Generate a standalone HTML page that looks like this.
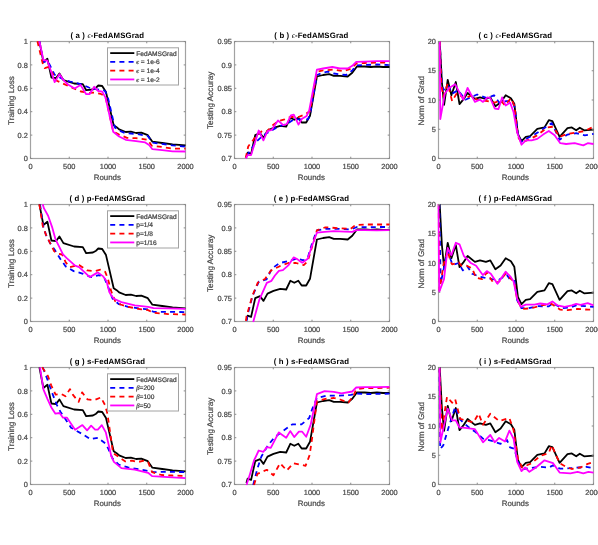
<!DOCTYPE html><html><head><meta charset="utf-8"><style>html,body{margin:0;padding:0;background:#fff;}svg{display:block;will-change:transform;}text.t{stroke:#4a4a4a;stroke-width:0.22px;}</style></head><body>
<svg width="598" height="545" viewBox="0 0 598 545" font-family='"Liberation Sans", sans-serif' text-rendering="geometricPrecision">
<rect width="598" height="545" fill="#fff"/>
<defs><clipPath id="cpa"><rect x="29.5" y="40.5" width="157.0" height="119.0"/></clipPath></defs>
<rect x="30.5" y="41.5" width="155.0" height="117.0" fill="none" stroke="#a2a2a2" stroke-width="1.2"/>
<path clip-path="url(#cpa)" d="M39.4,41.3 L43.4,62 L47.4,58.7 L51.4,77.5 L56.1,78.1 L59.4,73.4 L63.4,80.1 L74.1,83.5 L82.8,84.1 L86.2,90.2 L92.9,89.5 L96.1,87.7 L98.3,85.5 L102.2,86 L106,92.1 L113.7,125.2 L117,127.4 L119.1,129.3 L125.7,132 L130.9,131.7 L136.1,133 L141.3,132.6 L147.8,135.2 L152.4,141.7 L162.2,143 L172.6,144.3 L185.5,145.3" fill="none" stroke="#000000" stroke-width="1.8" stroke-linejoin="round"/>
<path clip-path="url(#cpa)" d="M39.4,41.3 L43.4,62 L48,61.4 L54.7,74.8 L63.4,79.5 L70.1,81.5 L80.8,84.1 L88.9,87.5 L96.9,89.5 L102.5,90 L105,91 L107.6,96.2 L114.8,127.4 L119.1,130.5 L125.7,133.3 L136.1,133.9 L147.8,135.9 L152.4,142.6 L172.6,145.3 L185.5,146.6" fill="none" stroke="#0000ff" stroke-width="1.8" stroke-linejoin="round" stroke-dasharray="5 4.2"/>
<path clip-path="url(#cpa)" d="M37.4,41.3 L42.7,63.4 L44.7,68.1 L48.7,66.8 L56.8,80.8 L70.1,86.8 L80.8,91.5 L88.9,92.8 L95,92.7 L100.5,93.8 L104.9,96.2 L106,99 L113.2,131.5 L119.1,134.6 L127,137.8 L136.1,138.2 L147.8,139.8 L151.7,145.7 L162.2,147 L172.6,148.7 L185.5,148.7" fill="none" stroke="#ff0000" stroke-width="1.8" stroke-linejoin="round" stroke-dasharray="5 4.2"/>
<path clip-path="url(#cpa)" d="M39.4,41.3 L43.4,60 L47.4,60.7 L54.7,82.1 L59.4,74.1 L63.4,80.1 L68,84.5 L74.6,88.4 L80.5,84.9 L86.2,94.2 L89.5,94.2 L94.2,86.8 L98.3,91 L102.2,91.6 L105.5,97.6 L113.2,131.8 L119.1,136.5 L125.7,139.8 L136.1,141.1 L145.2,142.4 L149.1,145 L152.4,149.2 L162.2,150.2 L172.6,151.3 L185.5,151.5" fill="none" stroke="#ff00ff" stroke-width="1.8" stroke-linejoin="round"/>
<line x1="30.5" y1="158.5" x2="30.5" y2="156.7" stroke="#8a8a8a" stroke-width="1"/>
<line x1="30.5" y1="41.5" x2="30.5" y2="43.3" stroke="#8a8a8a" stroke-width="1"/>
<text x="30.5" y="168.7" font-size="7.4" class="t" fill="#4a4a4a" text-anchor="middle">0</text>
<line x1="69.25" y1="158.5" x2="69.25" y2="156.7" stroke="#8a8a8a" stroke-width="1"/>
<line x1="69.25" y1="41.5" x2="69.25" y2="43.3" stroke="#8a8a8a" stroke-width="1"/>
<text x="69.25" y="168.7" font-size="7.4" class="t" fill="#4a4a4a" text-anchor="middle">500</text>
<line x1="108" y1="158.5" x2="108" y2="156.7" stroke="#8a8a8a" stroke-width="1"/>
<line x1="108" y1="41.5" x2="108" y2="43.3" stroke="#8a8a8a" stroke-width="1"/>
<text x="108" y="168.7" font-size="7.4" class="t" fill="#4a4a4a" text-anchor="middle">1000</text>
<line x1="146.75" y1="158.5" x2="146.75" y2="156.7" stroke="#8a8a8a" stroke-width="1"/>
<line x1="146.75" y1="41.5" x2="146.75" y2="43.3" stroke="#8a8a8a" stroke-width="1"/>
<text x="146.75" y="168.7" font-size="7.4" class="t" fill="#4a4a4a" text-anchor="middle">1500</text>
<line x1="185.5" y1="158.5" x2="185.5" y2="156.7" stroke="#8a8a8a" stroke-width="1"/>
<line x1="185.5" y1="41.5" x2="185.5" y2="43.3" stroke="#8a8a8a" stroke-width="1"/>
<text x="185.5" y="168.7" font-size="7.4" class="t" fill="#4a4a4a" text-anchor="middle">2000</text>
<line x1="30.5" y1="158.5" x2="32.3" y2="158.5" stroke="#8a8a8a" stroke-width="1"/>
<line x1="185.5" y1="158.5" x2="183.7" y2="158.5" stroke="#8a8a8a" stroke-width="1"/>
<text x="27.9" y="161.2" font-size="7.4" class="t" fill="#4a4a4a" text-anchor="end">0</text>
<line x1="30.5" y1="135.1" x2="32.3" y2="135.1" stroke="#8a8a8a" stroke-width="1"/>
<line x1="185.5" y1="135.1" x2="183.7" y2="135.1" stroke="#8a8a8a" stroke-width="1"/>
<text x="27.9" y="137.8" font-size="7.4" class="t" fill="#4a4a4a" text-anchor="end">0.2</text>
<line x1="30.5" y1="111.7" x2="32.3" y2="111.7" stroke="#8a8a8a" stroke-width="1"/>
<line x1="185.5" y1="111.7" x2="183.7" y2="111.7" stroke="#8a8a8a" stroke-width="1"/>
<text x="27.9" y="114.4" font-size="7.4" class="t" fill="#4a4a4a" text-anchor="end">0.4</text>
<line x1="30.5" y1="88.3" x2="32.3" y2="88.3" stroke="#8a8a8a" stroke-width="1"/>
<line x1="185.5" y1="88.3" x2="183.7" y2="88.3" stroke="#8a8a8a" stroke-width="1"/>
<text x="27.9" y="91" font-size="7.4" class="t" fill="#4a4a4a" text-anchor="end">0.6</text>
<line x1="30.5" y1="64.9" x2="32.3" y2="64.9" stroke="#8a8a8a" stroke-width="1"/>
<line x1="185.5" y1="64.9" x2="183.7" y2="64.9" stroke="#8a8a8a" stroke-width="1"/>
<text x="27.9" y="67.6" font-size="7.4" class="t" fill="#4a4a4a" text-anchor="end">0.8</text>
<line x1="30.5" y1="41.5" x2="32.3" y2="41.5" stroke="#8a8a8a" stroke-width="1"/>
<line x1="185.5" y1="41.5" x2="183.7" y2="41.5" stroke="#8a8a8a" stroke-width="1"/>
<text x="27.9" y="44.2" font-size="7.4" class="t" fill="#4a4a4a" text-anchor="end">1</text>
<text x="107.3" y="180.1" font-size="7.9" class="t" fill="#4a4a4a" text-anchor="middle">Rounds</text>
<text transform="translate(13.5,100.5) rotate(-90)" font-size="8.2" class="t" fill="#4a4a4a" text-anchor="middle">Training Loss</text>
<text x="107.4" y="37.9" font-size="7.8" font-weight="bold" letter-spacing="0.14" fill="#000" text-anchor="middle">( a ) <tspan font-family="Liberation Serif" font-style="italic" font-weight="normal">ϵ</tspan>-FedAMSGrad</text>
<rect x="107.5" y="47.8" width="71" height="37.2" fill="#fff" stroke="#a2a2a2" stroke-width="1"/>
<line x1="110.2" y1="53.1" x2="134.3" y2="53.1" stroke="#000000" stroke-width="1.8"/>
<text x="136.3" y="55.6" font-size="6.6" class="t" fill="#333">FedAMSGrad</text>
<line x1="110.2" y1="61.88" x2="134.3" y2="61.88" stroke="#0000ff" stroke-width="1.8" stroke-dasharray="5 4.2"/>
<text x="136.3" y="64.38" font-size="6.6" class="t" fill="#333"><tspan font-family="Liberation Serif" font-style="italic" font-weight="normal">ϵ</tspan> = 1e-6</text>
<line x1="110.2" y1="70.66" x2="134.3" y2="70.66" stroke="#ff0000" stroke-width="1.8" stroke-dasharray="5 4.2"/>
<text x="136.3" y="73.16" font-size="6.6" class="t" fill="#333"><tspan font-family="Liberation Serif" font-style="italic" font-weight="normal">ϵ</tspan> = 1e-4</text>
<line x1="110.2" y1="79.44" x2="134.3" y2="79.44" stroke="#ff00ff" stroke-width="1.8"/>
<text x="136.3" y="81.94" font-size="6.6" class="t" fill="#333"><tspan font-family="Liberation Serif" font-style="italic" font-weight="normal">ϵ</tspan> = 1e-2</text>
<defs><clipPath id="cpb"><rect x="233.5" y="40.5" width="157.0" height="119.0"/></clipPath></defs>
<rect x="234.5" y="41.5" width="155.0" height="117.0" fill="none" stroke="#a2a2a2" stroke-width="1.2"/>
<path clip-path="url(#cpb)" d="M246.4,157 L247.6,152.7 L251.1,153.9 L255.2,135.2 L260.1,133.2 L263.5,137.9 L267.5,130.6 L273.5,127.9 L280.2,125.9 L286.2,126.5 L290.3,117.8 L294.3,119.8 L298.3,117.8 L301.7,122.5 L306.2,122.5 L310,115.8 L316.9,76.5 L323.1,75 L329.2,74.2 L333.8,75.8 L340,75.8 L347.7,76.5 L352.3,72.7 L356.9,66.5 L364.6,66.5 L370.8,67 L376.9,66.5 L383.1,67 L389.5,67" fill="none" stroke="#000000" stroke-width="1.8" stroke-linejoin="round"/>
<path clip-path="url(#cpb)" d="M247,156 L247.5,154.5 L256.4,141.6 L263.4,135.2 L270.4,131.1 L278.6,126.4 L286.8,124 L293.8,119.4 L303.2,119.4 L307.9,119.4 L310,114.7 L316.9,75 L323.1,72.7 L327.7,71.6 L333.8,73.5 L346.2,75 L352.3,70.4 L356.2,65.5 L364.6,65 L376.9,64.5 L389.5,65" fill="none" stroke="#0000ff" stroke-width="1.8" stroke-linejoin="round" stroke-dasharray="5 4.2"/>
<path clip-path="url(#cpb)" d="M245.7,158 L248.2,146.5 L255.5,137 L262.5,130.5 L267,131.5 L272,125.8 L278.6,121.1 L284.5,119.4 L290.3,117 L298.5,117 L304.4,114.7 L310,111.2 L316.9,71.9 L323.1,70.4 L333.8,69.6 L343.1,71.2 L350.8,68.8 L356.2,63.5 L364.6,63 L376.9,62.7 L389.5,62.4" fill="none" stroke="#ff0000" stroke-width="1.8" stroke-linejoin="round" stroke-dasharray="5 4.2"/>
<path clip-path="url(#cpb)" d="M245.9,158.5 L247.6,155.1 L251.1,155.1 L258.7,130.5 L263.4,140.4 L267.5,131.1 L271.6,129.9 L278,120.5 L283.3,125.2 L286.8,124 L290.9,115.3 L293.8,114.7 L298.5,124.6 L302,118.8 L306.7,115.9 L309.2,110.4 L316.9,69.6 L323.1,68.5 L332.3,67 L340,68.5 L347.7,68.5 L352.3,65.8 L356.2,61.9 L364.6,61.6 L376.9,61.2 L389.5,61.2" fill="none" stroke="#ff00ff" stroke-width="1.8" stroke-linejoin="round"/>
<line x1="234.5" y1="158.5" x2="234.5" y2="156.7" stroke="#8a8a8a" stroke-width="1"/>
<line x1="234.5" y1="41.5" x2="234.5" y2="43.3" stroke="#8a8a8a" stroke-width="1"/>
<text x="234.5" y="168.7" font-size="7.4" class="t" fill="#4a4a4a" text-anchor="middle">0</text>
<line x1="273.25" y1="158.5" x2="273.25" y2="156.7" stroke="#8a8a8a" stroke-width="1"/>
<line x1="273.25" y1="41.5" x2="273.25" y2="43.3" stroke="#8a8a8a" stroke-width="1"/>
<text x="273.25" y="168.7" font-size="7.4" class="t" fill="#4a4a4a" text-anchor="middle">500</text>
<line x1="312" y1="158.5" x2="312" y2="156.7" stroke="#8a8a8a" stroke-width="1"/>
<line x1="312" y1="41.5" x2="312" y2="43.3" stroke="#8a8a8a" stroke-width="1"/>
<text x="312" y="168.7" font-size="7.4" class="t" fill="#4a4a4a" text-anchor="middle">1000</text>
<line x1="350.75" y1="158.5" x2="350.75" y2="156.7" stroke="#8a8a8a" stroke-width="1"/>
<line x1="350.75" y1="41.5" x2="350.75" y2="43.3" stroke="#8a8a8a" stroke-width="1"/>
<text x="350.75" y="168.7" font-size="7.4" class="t" fill="#4a4a4a" text-anchor="middle">1500</text>
<line x1="389.5" y1="158.5" x2="389.5" y2="156.7" stroke="#8a8a8a" stroke-width="1"/>
<line x1="389.5" y1="41.5" x2="389.5" y2="43.3" stroke="#8a8a8a" stroke-width="1"/>
<text x="389.5" y="168.7" font-size="7.4" class="t" fill="#4a4a4a" text-anchor="middle">2000</text>
<line x1="234.5" y1="158.5" x2="236.3" y2="158.5" stroke="#8a8a8a" stroke-width="1"/>
<line x1="389.5" y1="158.5" x2="387.7" y2="158.5" stroke="#8a8a8a" stroke-width="1"/>
<text x="231.9" y="161.2" font-size="7.4" class="t" fill="#4a4a4a" text-anchor="end">0.7</text>
<line x1="234.5" y1="135.1" x2="236.3" y2="135.1" stroke="#8a8a8a" stroke-width="1"/>
<line x1="389.5" y1="135.1" x2="387.7" y2="135.1" stroke="#8a8a8a" stroke-width="1"/>
<text x="231.9" y="137.8" font-size="7.4" class="t" fill="#4a4a4a" text-anchor="end">0.75</text>
<line x1="234.5" y1="111.7" x2="236.3" y2="111.7" stroke="#8a8a8a" stroke-width="1"/>
<line x1="389.5" y1="111.7" x2="387.7" y2="111.7" stroke="#8a8a8a" stroke-width="1"/>
<text x="231.9" y="114.4" font-size="7.4" class="t" fill="#4a4a4a" text-anchor="end">0.8</text>
<line x1="234.5" y1="88.3" x2="236.3" y2="88.3" stroke="#8a8a8a" stroke-width="1"/>
<line x1="389.5" y1="88.3" x2="387.7" y2="88.3" stroke="#8a8a8a" stroke-width="1"/>
<text x="231.9" y="91" font-size="7.4" class="t" fill="#4a4a4a" text-anchor="end">0.85</text>
<line x1="234.5" y1="64.9" x2="236.3" y2="64.9" stroke="#8a8a8a" stroke-width="1"/>
<line x1="389.5" y1="64.9" x2="387.7" y2="64.9" stroke="#8a8a8a" stroke-width="1"/>
<text x="231.9" y="67.6" font-size="7.4" class="t" fill="#4a4a4a" text-anchor="end">0.9</text>
<line x1="234.5" y1="41.5" x2="236.3" y2="41.5" stroke="#8a8a8a" stroke-width="1"/>
<line x1="389.5" y1="41.5" x2="387.7" y2="41.5" stroke="#8a8a8a" stroke-width="1"/>
<text x="231.9" y="44.2" font-size="7.4" class="t" fill="#4a4a4a" text-anchor="end">0.95</text>
<text x="311.3" y="180.1" font-size="7.9" class="t" fill="#4a4a4a" text-anchor="middle">Rounds</text>
<text transform="translate(213.1,100.3) rotate(-90)" font-size="8.2" class="t" fill="#4a4a4a" text-anchor="middle">Testing Accuray</text>
<text x="311.4" y="37.9" font-size="7.8" font-weight="bold" letter-spacing="0.14" fill="#000" text-anchor="middle">( b ) <tspan font-family="Liberation Serif" font-style="italic" font-weight="normal">ϵ</tspan>-FedAMSGrad</text>
<defs><clipPath id="cpc"><rect x="437.5" y="40.5" width="157.0" height="119.0"/></clipPath></defs>
<rect x="438.5" y="41.5" width="155.0" height="117.0" fill="none" stroke="#a2a2a2" stroke-width="1.2"/>
<path clip-path="url(#cpc)" d="M439.7,41 L441.9,82 L444.1,104.8 L447.7,79.8 L451.4,95.2 L455.8,82 L459.5,104.1 L463.2,99.7 L467.6,93 L474.9,98.9 L480,97.4 L485.9,98.9 L490.3,97.4 L495.4,106.3 L500.6,102.6 L505.7,95.2 L510.9,98.2 L514.3,103.7 L517.9,133.9 L521.5,141.1 L525.8,136.8 L530.1,136.1 L537.3,128.9 L544.5,127.4 L548.8,120.2 L552.4,121.2 L559.6,136.8 L567.5,128.1 L571.8,127.4 L576.2,130.3 L579.8,127.7 L584.1,130.3 L593.5,129.6" fill="none" stroke="#000000" stroke-width="1.8" stroke-linejoin="round"/>
<path clip-path="url(#cpc)" d="M439.7,41 L441.9,82 L443.3,90.1 L448.5,86.4 L452.1,93.8 L458,90.1 L465.4,99.7 L477.1,94.5 L487.4,98.2 L494,95.2 L499.1,102.6 L506.5,101.1 L512.3,101.1 L515,108 L517.9,133.9 L521.5,141.8 L527.3,138.2 L534.4,134.6 L543.1,128.9 L551.7,123.1 L559.6,139.7 L567.5,134.6 L576.2,133.2 L584.8,135.3 L593.5,133.9" fill="none" stroke="#0000ff" stroke-width="1.8" stroke-linejoin="round" stroke-dasharray="5 4.2"/>
<path clip-path="url(#cpc)" d="M439.7,41 L441.5,85 L443.3,96.7 L447.7,83.5 L452.1,101.1 L457,93 L464.6,98.9 L471.2,95.2 L477.1,99.7 L487.4,101.1 L494.7,102.6 L500.6,100.4 L505,105.5 L510.9,98.2 L514.5,106 L517.9,136.8 L521.5,142.5 L528.7,139.7 L537.3,135.3 L547.4,127.4 L553.1,126.7 L559.6,136.8 L567.5,133.9 L576.2,132.5 L584.8,131 L593.5,126.7" fill="none" stroke="#ff0000" stroke-width="1.8" stroke-linejoin="round" stroke-dasharray="5 4.2"/>
<path clip-path="url(#cpc)" d="M439.7,41 L440.3,119 L444.8,93.8 L449.2,87.9 L455.1,84.2 L463.2,99.7 L467.6,87.9 L474.9,101.9 L480,99.7 L483,101.9 L487.4,97.4 L490.3,98.2 L494.7,108.5 L498.4,109.2 L502.1,97.4 L505.7,105.5 L510.1,102.6 L513.6,112.3 L517.2,132.5 L521.5,144.7 L525.8,140.4 L531.6,140.4 L537.3,138.9 L543.1,134.6 L548.8,131 L554.6,135.3 L560.3,143.2 L566.1,144 L574.7,143.2 L583.3,145.4 L587.7,143.2 L593.5,144" fill="none" stroke="#ff00ff" stroke-width="1.8" stroke-linejoin="round"/>
<line x1="438.5" y1="158.5" x2="438.5" y2="156.7" stroke="#8a8a8a" stroke-width="1"/>
<line x1="438.5" y1="41.5" x2="438.5" y2="43.3" stroke="#8a8a8a" stroke-width="1"/>
<text x="438.5" y="168.7" font-size="7.4" class="t" fill="#4a4a4a" text-anchor="middle">0</text>
<line x1="477.25" y1="158.5" x2="477.25" y2="156.7" stroke="#8a8a8a" stroke-width="1"/>
<line x1="477.25" y1="41.5" x2="477.25" y2="43.3" stroke="#8a8a8a" stroke-width="1"/>
<text x="477.25" y="168.7" font-size="7.4" class="t" fill="#4a4a4a" text-anchor="middle">500</text>
<line x1="516" y1="158.5" x2="516" y2="156.7" stroke="#8a8a8a" stroke-width="1"/>
<line x1="516" y1="41.5" x2="516" y2="43.3" stroke="#8a8a8a" stroke-width="1"/>
<text x="516" y="168.7" font-size="7.4" class="t" fill="#4a4a4a" text-anchor="middle">1000</text>
<line x1="554.75" y1="158.5" x2="554.75" y2="156.7" stroke="#8a8a8a" stroke-width="1"/>
<line x1="554.75" y1="41.5" x2="554.75" y2="43.3" stroke="#8a8a8a" stroke-width="1"/>
<text x="554.75" y="168.7" font-size="7.4" class="t" fill="#4a4a4a" text-anchor="middle">1500</text>
<line x1="593.5" y1="158.5" x2="593.5" y2="156.7" stroke="#8a8a8a" stroke-width="1"/>
<line x1="593.5" y1="41.5" x2="593.5" y2="43.3" stroke="#8a8a8a" stroke-width="1"/>
<text x="593.5" y="168.7" font-size="7.4" class="t" fill="#4a4a4a" text-anchor="middle">2000</text>
<line x1="438.5" y1="158.5" x2="440.3" y2="158.5" stroke="#8a8a8a" stroke-width="1"/>
<line x1="593.5" y1="158.5" x2="591.7" y2="158.5" stroke="#8a8a8a" stroke-width="1"/>
<text x="435.9" y="161.2" font-size="7.4" class="t" fill="#4a4a4a" text-anchor="end">0</text>
<line x1="438.5" y1="129.25" x2="440.3" y2="129.25" stroke="#8a8a8a" stroke-width="1"/>
<line x1="593.5" y1="129.25" x2="591.7" y2="129.25" stroke="#8a8a8a" stroke-width="1"/>
<text x="435.9" y="131.95" font-size="7.4" class="t" fill="#4a4a4a" text-anchor="end">5</text>
<line x1="438.5" y1="100" x2="440.3" y2="100" stroke="#8a8a8a" stroke-width="1"/>
<line x1="593.5" y1="100" x2="591.7" y2="100" stroke="#8a8a8a" stroke-width="1"/>
<text x="435.9" y="102.7" font-size="7.4" class="t" fill="#4a4a4a" text-anchor="end">10</text>
<line x1="438.5" y1="70.75" x2="440.3" y2="70.75" stroke="#8a8a8a" stroke-width="1"/>
<line x1="593.5" y1="70.75" x2="591.7" y2="70.75" stroke="#8a8a8a" stroke-width="1"/>
<text x="435.9" y="73.45" font-size="7.4" class="t" fill="#4a4a4a" text-anchor="end">15</text>
<line x1="438.5" y1="41.5" x2="440.3" y2="41.5" stroke="#8a8a8a" stroke-width="1"/>
<line x1="593.5" y1="41.5" x2="591.7" y2="41.5" stroke="#8a8a8a" stroke-width="1"/>
<text x="435.9" y="44.2" font-size="7.4" class="t" fill="#4a4a4a" text-anchor="end">20</text>
<text x="515.3" y="180.1" font-size="7.9" class="t" fill="#4a4a4a" text-anchor="middle">Rounds</text>
<text transform="translate(423.6,100.7) rotate(-90)" font-size="8.2" class="t" fill="#4a4a4a" text-anchor="middle">Norm of Grad</text>
<text x="515.4" y="37.9" font-size="7.8" font-weight="bold" letter-spacing="0.14" fill="#000" text-anchor="middle">( c ) <tspan font-family="Liberation Serif" font-style="italic" font-weight="normal">ϵ</tspan>-FedAMSGrad</text>
<defs><clipPath id="cpd"><rect x="29.5" y="203.5" width="157.0" height="119.0"/></clipPath></defs>
<rect x="30.5" y="204.5" width="155.0" height="117.0" fill="none" stroke="#a2a2a2" stroke-width="1.2"/>
<path clip-path="url(#cpd)" d="M39.4,204.3 L43.4,225 L47.4,221.7 L51.4,240.5 L56.1,241.1 L59.4,236.4 L63.4,243.1 L74.1,246.5 L82.8,247.1 L86.2,253.2 L92.9,252.5 L96.1,250.7 L98.3,248.5 L102.2,249 L106,255.1 L113.7,288.2 L117,290.4 L119.1,292.3 L125.7,295 L130.9,294.7 L136.1,296 L141.3,295.6 L147.8,298.2 L152.4,304.7 L162.2,306 L172.6,307.3 L185.5,308.3" fill="none" stroke="#000000" stroke-width="1.8" stroke-linejoin="round"/>
<path clip-path="url(#cpd)" d="M40,204.3 L43.4,227.1 L46.1,235.1 L50.1,243.1 L54.7,249.8 L60.4,259 L65.7,266.4 L73.7,271.1 L83.1,273.8 L91.1,277.1 L99.1,275.1 L104.5,278.4 L108.5,287.8 L112.5,298.5 L118.7,304.1 L128.1,306.8 L141.4,308.8 L148.1,309.4 L153.5,311.8 L168.2,311.8 L185.5,312.1" fill="none" stroke="#0000ff" stroke-width="1.8" stroke-linejoin="round" stroke-dasharray="5 4.2"/>
<path clip-path="url(#cpd)" d="M39.4,204.3 L42.7,225.7 L46,235 L50.1,243.1 L54.1,251.2 L58.8,253.8 L62.1,254.5 L65.7,262.4 L69.7,267.1 L79.1,265.1 L87.1,270.4 L95.1,271.1 L100.5,269.7 L105.2,271.8 L107.8,278.4 L111.2,291.2 L115.2,301.2 L120.6,304.5 L128.1,306.8 L141.4,309.4 L148.1,310.1 L153.5,312.8 L168.2,314.1 L185.5,314.5" fill="none" stroke="#ff0000" stroke-width="1.8" stroke-linejoin="round" stroke-dasharray="5 4.2"/>
<path clip-path="url(#cpd)" d="M42.7,204.3 L44,208.4 L48.1,215.7 L52.1,227.1 L55.4,239.1 L58.8,245.8 L63,254.4 L67,258.4 L75.1,265.7 L79.1,267.1 L89.8,277.1 L97.8,272.4 L103.2,276.4 L106.5,281.1 L109.3,292 L111.2,295.2 L114,298.7 L121.4,302.1 L134.8,305.4 L148.1,306.8 L153.5,308.1 L168.2,308.4 L185.5,308.8" fill="none" stroke="#ff00ff" stroke-width="1.8" stroke-linejoin="round"/>
<line x1="30.5" y1="321.5" x2="30.5" y2="319.7" stroke="#8a8a8a" stroke-width="1"/>
<line x1="30.5" y1="204.5" x2="30.5" y2="206.3" stroke="#8a8a8a" stroke-width="1"/>
<text x="30.5" y="331.7" font-size="7.4" class="t" fill="#4a4a4a" text-anchor="middle">0</text>
<line x1="69.25" y1="321.5" x2="69.25" y2="319.7" stroke="#8a8a8a" stroke-width="1"/>
<line x1="69.25" y1="204.5" x2="69.25" y2="206.3" stroke="#8a8a8a" stroke-width="1"/>
<text x="69.25" y="331.7" font-size="7.4" class="t" fill="#4a4a4a" text-anchor="middle">500</text>
<line x1="108" y1="321.5" x2="108" y2="319.7" stroke="#8a8a8a" stroke-width="1"/>
<line x1="108" y1="204.5" x2="108" y2="206.3" stroke="#8a8a8a" stroke-width="1"/>
<text x="108" y="331.7" font-size="7.4" class="t" fill="#4a4a4a" text-anchor="middle">1000</text>
<line x1="146.75" y1="321.5" x2="146.75" y2="319.7" stroke="#8a8a8a" stroke-width="1"/>
<line x1="146.75" y1="204.5" x2="146.75" y2="206.3" stroke="#8a8a8a" stroke-width="1"/>
<text x="146.75" y="331.7" font-size="7.4" class="t" fill="#4a4a4a" text-anchor="middle">1500</text>
<line x1="185.5" y1="321.5" x2="185.5" y2="319.7" stroke="#8a8a8a" stroke-width="1"/>
<line x1="185.5" y1="204.5" x2="185.5" y2="206.3" stroke="#8a8a8a" stroke-width="1"/>
<text x="185.5" y="331.7" font-size="7.4" class="t" fill="#4a4a4a" text-anchor="middle">2000</text>
<line x1="30.5" y1="321.5" x2="32.3" y2="321.5" stroke="#8a8a8a" stroke-width="1"/>
<line x1="185.5" y1="321.5" x2="183.7" y2="321.5" stroke="#8a8a8a" stroke-width="1"/>
<text x="27.9" y="324.2" font-size="7.4" class="t" fill="#4a4a4a" text-anchor="end">0</text>
<line x1="30.5" y1="298.1" x2="32.3" y2="298.1" stroke="#8a8a8a" stroke-width="1"/>
<line x1="185.5" y1="298.1" x2="183.7" y2="298.1" stroke="#8a8a8a" stroke-width="1"/>
<text x="27.9" y="300.8" font-size="7.4" class="t" fill="#4a4a4a" text-anchor="end">0.2</text>
<line x1="30.5" y1="274.7" x2="32.3" y2="274.7" stroke="#8a8a8a" stroke-width="1"/>
<line x1="185.5" y1="274.7" x2="183.7" y2="274.7" stroke="#8a8a8a" stroke-width="1"/>
<text x="27.9" y="277.4" font-size="7.4" class="t" fill="#4a4a4a" text-anchor="end">0.4</text>
<line x1="30.5" y1="251.3" x2="32.3" y2="251.3" stroke="#8a8a8a" stroke-width="1"/>
<line x1="185.5" y1="251.3" x2="183.7" y2="251.3" stroke="#8a8a8a" stroke-width="1"/>
<text x="27.9" y="254" font-size="7.4" class="t" fill="#4a4a4a" text-anchor="end">0.6</text>
<line x1="30.5" y1="227.9" x2="32.3" y2="227.9" stroke="#8a8a8a" stroke-width="1"/>
<line x1="185.5" y1="227.9" x2="183.7" y2="227.9" stroke="#8a8a8a" stroke-width="1"/>
<text x="27.9" y="230.6" font-size="7.4" class="t" fill="#4a4a4a" text-anchor="end">0.8</text>
<line x1="30.5" y1="204.5" x2="32.3" y2="204.5" stroke="#8a8a8a" stroke-width="1"/>
<line x1="185.5" y1="204.5" x2="183.7" y2="204.5" stroke="#8a8a8a" stroke-width="1"/>
<text x="27.9" y="207.2" font-size="7.4" class="t" fill="#4a4a4a" text-anchor="end">1</text>
<text x="107.3" y="343.1" font-size="7.9" class="t" fill="#4a4a4a" text-anchor="middle">Rounds</text>
<text transform="translate(13.5,263.5) rotate(-90)" font-size="8.2" class="t" fill="#4a4a4a" text-anchor="middle">Training Loss</text>
<text x="107.4" y="200.9" font-size="7.8" font-weight="bold" letter-spacing="0.14" fill="#000" text-anchor="middle">( d ) p-FedAMSGrad</text>
<rect x="107.5" y="210.8" width="71" height="37.2" fill="#fff" stroke="#a2a2a2" stroke-width="1"/>
<line x1="110.2" y1="216.1" x2="134.3" y2="216.1" stroke="#000000" stroke-width="1.8"/>
<text x="136.3" y="218.6" font-size="6.6" class="t" fill="#333">FedAMSGrad</text>
<line x1="110.2" y1="224.88" x2="134.3" y2="224.88" stroke="#0000ff" stroke-width="1.8" stroke-dasharray="5 4.2"/>
<text x="136.3" y="227.38" font-size="6.6" class="t" fill="#333">p=1/4</text>
<line x1="110.2" y1="233.66" x2="134.3" y2="233.66" stroke="#ff0000" stroke-width="1.8" stroke-dasharray="5 4.2"/>
<text x="136.3" y="236.16" font-size="6.6" class="t" fill="#333">p=1/8</text>
<line x1="110.2" y1="242.44" x2="134.3" y2="242.44" stroke="#ff00ff" stroke-width="1.8"/>
<text x="136.3" y="244.94" font-size="6.6" class="t" fill="#333">p=1/16</text>
<defs><clipPath id="cpe"><rect x="233.5" y="203.5" width="157.0" height="119.0"/></clipPath></defs>
<rect x="234.5" y="204.5" width="155.0" height="117.0" fill="none" stroke="#a2a2a2" stroke-width="1.2"/>
<path clip-path="url(#cpe)" d="M246.4,320 L247.6,315.7 L251.1,316.9 L255.2,298.2 L260.1,296.2 L263.5,300.9 L267.5,293.6 L273.5,290.9 L280.2,288.9 L286.2,289.5 L290.3,280.8 L294.3,282.8 L298.3,280.8 L301.7,285.5 L306.2,285.5 L310,278.8 L316.9,239.5 L323.1,238 L329.2,237.2 L333.8,238.8 L340,238.8 L347.7,239.5 L352.3,235.7 L356.9,229.5 L364.6,229.5 L370.8,230 L376.9,229.5 L383.1,230 L389.5,230" fill="none" stroke="#000000" stroke-width="1.8" stroke-linejoin="round"/>
<path clip-path="url(#cpe)" d="M246.5,321 L248,313.2 L252.5,296 L258.9,281.5 L266.6,279.3 L272,268.4 L279.7,263 L288.4,261.2 L297.1,258.6 L303.7,260.3 L308,257 L312.3,242.7 L316.9,230.4 L326.2,228.8 L338.5,228.8 L350.8,229.6 L356.9,227 L369.2,227.3 L380,227 L389.5,227" fill="none" stroke="#0000ff" stroke-width="1.8" stroke-linejoin="round" stroke-dasharray="5 4.2"/>
<path clip-path="url(#cpe)" d="M246,321 L246.5,316.4 L252.4,295.7 L257.8,282.6 L265,279 L270.9,270.6 L279.7,266.2 L288.4,263 L296,263 L303.7,265.1 L307.7,261.2 L311.5,248.8 L316.9,230.4 L325.4,227.3 L338.5,228.1 L350.8,228.8 L355.4,225 L364.6,224.5 L376.9,224.5 L389.5,224.5" fill="none" stroke="#ff0000" stroke-width="1.8" stroke-linejoin="round" stroke-dasharray="5 4.2"/>
<path clip-path="url(#cpe)" d="M253.2,322 L259.4,299.6 L266.8,282.8 L271.5,280.8 L274.9,275.5 L278.9,270.8 L282.9,270.1 L288.3,265.4 L293.6,257.4 L297.6,259.4 L300,261.2 L302.3,262.7 L307.7,258.8 L311.5,247.3 L316.9,232.7 L324.6,231.9 L333.8,231.2 L344.6,231.6 L352.3,231.9 L356.2,230.1 L364.6,230.1 L376.9,230.4 L389.5,230.1" fill="none" stroke="#ff00ff" stroke-width="1.8" stroke-linejoin="round"/>
<line x1="234.5" y1="321.5" x2="234.5" y2="319.7" stroke="#8a8a8a" stroke-width="1"/>
<line x1="234.5" y1="204.5" x2="234.5" y2="206.3" stroke="#8a8a8a" stroke-width="1"/>
<text x="234.5" y="331.7" font-size="7.4" class="t" fill="#4a4a4a" text-anchor="middle">0</text>
<line x1="273.25" y1="321.5" x2="273.25" y2="319.7" stroke="#8a8a8a" stroke-width="1"/>
<line x1="273.25" y1="204.5" x2="273.25" y2="206.3" stroke="#8a8a8a" stroke-width="1"/>
<text x="273.25" y="331.7" font-size="7.4" class="t" fill="#4a4a4a" text-anchor="middle">500</text>
<line x1="312" y1="321.5" x2="312" y2="319.7" stroke="#8a8a8a" stroke-width="1"/>
<line x1="312" y1="204.5" x2="312" y2="206.3" stroke="#8a8a8a" stroke-width="1"/>
<text x="312" y="331.7" font-size="7.4" class="t" fill="#4a4a4a" text-anchor="middle">1000</text>
<line x1="350.75" y1="321.5" x2="350.75" y2="319.7" stroke="#8a8a8a" stroke-width="1"/>
<line x1="350.75" y1="204.5" x2="350.75" y2="206.3" stroke="#8a8a8a" stroke-width="1"/>
<text x="350.75" y="331.7" font-size="7.4" class="t" fill="#4a4a4a" text-anchor="middle">1500</text>
<line x1="389.5" y1="321.5" x2="389.5" y2="319.7" stroke="#8a8a8a" stroke-width="1"/>
<line x1="389.5" y1="204.5" x2="389.5" y2="206.3" stroke="#8a8a8a" stroke-width="1"/>
<text x="389.5" y="331.7" font-size="7.4" class="t" fill="#4a4a4a" text-anchor="middle">2000</text>
<line x1="234.5" y1="321.5" x2="236.3" y2="321.5" stroke="#8a8a8a" stroke-width="1"/>
<line x1="389.5" y1="321.5" x2="387.7" y2="321.5" stroke="#8a8a8a" stroke-width="1"/>
<text x="231.9" y="324.2" font-size="7.4" class="t" fill="#4a4a4a" text-anchor="end">0.7</text>
<line x1="234.5" y1="298.1" x2="236.3" y2="298.1" stroke="#8a8a8a" stroke-width="1"/>
<line x1="389.5" y1="298.1" x2="387.7" y2="298.1" stroke="#8a8a8a" stroke-width="1"/>
<text x="231.9" y="300.8" font-size="7.4" class="t" fill="#4a4a4a" text-anchor="end">0.75</text>
<line x1="234.5" y1="274.7" x2="236.3" y2="274.7" stroke="#8a8a8a" stroke-width="1"/>
<line x1="389.5" y1="274.7" x2="387.7" y2="274.7" stroke="#8a8a8a" stroke-width="1"/>
<text x="231.9" y="277.4" font-size="7.4" class="t" fill="#4a4a4a" text-anchor="end">0.8</text>
<line x1="234.5" y1="251.3" x2="236.3" y2="251.3" stroke="#8a8a8a" stroke-width="1"/>
<line x1="389.5" y1="251.3" x2="387.7" y2="251.3" stroke="#8a8a8a" stroke-width="1"/>
<text x="231.9" y="254" font-size="7.4" class="t" fill="#4a4a4a" text-anchor="end">0.85</text>
<line x1="234.5" y1="227.9" x2="236.3" y2="227.9" stroke="#8a8a8a" stroke-width="1"/>
<line x1="389.5" y1="227.9" x2="387.7" y2="227.9" stroke="#8a8a8a" stroke-width="1"/>
<text x="231.9" y="230.6" font-size="7.4" class="t" fill="#4a4a4a" text-anchor="end">0.9</text>
<line x1="234.5" y1="204.5" x2="236.3" y2="204.5" stroke="#8a8a8a" stroke-width="1"/>
<line x1="389.5" y1="204.5" x2="387.7" y2="204.5" stroke="#8a8a8a" stroke-width="1"/>
<text x="231.9" y="207.2" font-size="7.4" class="t" fill="#4a4a4a" text-anchor="end">0.95</text>
<text x="311.3" y="343.1" font-size="7.9" class="t" fill="#4a4a4a" text-anchor="middle">Rounds</text>
<text transform="translate(213.1,263.3) rotate(-90)" font-size="8.2" class="t" fill="#4a4a4a" text-anchor="middle">Testing Accuray</text>
<text x="311.4" y="200.9" font-size="7.8" font-weight="bold" letter-spacing="0.14" fill="#000" text-anchor="middle">( e ) p-FedAMSGrad</text>
<defs><clipPath id="cpf"><rect x="437.5" y="203.5" width="157.0" height="119.0"/></clipPath></defs>
<rect x="438.5" y="204.5" width="155.0" height="117.0" fill="none" stroke="#a2a2a2" stroke-width="1.2"/>
<path clip-path="url(#cpf)" d="M439.7,204 L441.9,245 L444.1,267.8 L447.7,242.8 L451.4,258.2 L455.8,245 L459.5,267.1 L463.2,262.7 L467.6,256 L474.9,261.9 L480,260.4 L485.9,261.9 L490.3,260.4 L495.4,269.3 L500.6,265.6 L505.7,258.2 L510.9,261.2 L514.3,266.7 L517.9,296.9 L521.5,304.1 L525.8,299.8 L530.1,299.1 L537.3,291.9 L544.5,290.4 L548.8,283.2 L552.4,284.2 L559.6,299.8 L567.5,291.1 L571.8,290.4 L576.2,293.3 L579.8,290.7 L584.1,293.3 L593.5,292.6" fill="none" stroke="#000000" stroke-width="1.8" stroke-linejoin="round"/>
<path clip-path="url(#cpf)" d="M439.3,204 L440.7,283.1 L443.5,270 L447.7,250.9 L450.7,259.7 L452.7,265 L458.7,263 L462.8,270.4 L467.4,266.4 L472.1,273.7 L478.8,276.4 L484.2,277.7 L492.2,279.1 L498.9,279.7 L506.9,275.1 L510,279.5 L514.3,280.9 L517.2,300.3 L521.5,308.2 L528.7,308.2 L537.3,306.1 L548.8,306.4 L553.1,303.2 L561.8,308.2 L570.4,307.5 L576.2,305.4 L584.8,306.1 L593.5,306.8" fill="none" stroke="#0000ff" stroke-width="1.8" stroke-linejoin="round" stroke-dasharray="5 4.2"/>
<path clip-path="url(#cpf)" d="M438.6,204 L439.5,290 L441.4,279.1 L443.3,265.6 L447.7,250.9 L450.7,262 L452.1,264.4 L458.7,262.4 L461.4,265.7 L466.8,265.7 L472.1,268.4 L476.1,277.7 L482.2,279.1 L486.8,272.4 L493.5,283.1 L498.9,281.8 L505.6,273.7 L510,278 L514.3,282 L517.2,300.3 L522.2,309 L531.6,308.2 L541.6,305.4 L551.7,303.9 L560.3,309.7 L567.5,310.1 L577.6,309 L588.4,309.7 L593.5,309.5" fill="none" stroke="#ff0000" stroke-width="1.8" stroke-linejoin="round" stroke-dasharray="5 4.2"/>
<path clip-path="url(#cpf)" d="M438.2,204 L439.3,291.8 L444,279.1 L447.7,248 L451.4,255.3 L455.8,242.8 L459.5,244.3 L463.9,256 L467.6,259.7 L470.8,263 L476.1,265.7 L482.8,275.1 L486.8,271.1 L490.8,273.7 L497.5,283.8 L505.6,271.7 L510.9,277.1 L513.6,281.6 L517.2,298.9 L520.8,306.8 L525.8,304.7 L534.4,304.7 L540.2,303.5 L547.4,304.4 L552.4,301.5 L557.5,305.4 L564.7,306.8 L571.8,305.4 L576.2,303.9 L580.5,304.9 L587.7,303.2 L593.5,305.4" fill="none" stroke="#ff00ff" stroke-width="1.8" stroke-linejoin="round"/>
<line x1="438.5" y1="321.5" x2="438.5" y2="319.7" stroke="#8a8a8a" stroke-width="1"/>
<line x1="438.5" y1="204.5" x2="438.5" y2="206.3" stroke="#8a8a8a" stroke-width="1"/>
<text x="438.5" y="331.7" font-size="7.4" class="t" fill="#4a4a4a" text-anchor="middle">0</text>
<line x1="477.25" y1="321.5" x2="477.25" y2="319.7" stroke="#8a8a8a" stroke-width="1"/>
<line x1="477.25" y1="204.5" x2="477.25" y2="206.3" stroke="#8a8a8a" stroke-width="1"/>
<text x="477.25" y="331.7" font-size="7.4" class="t" fill="#4a4a4a" text-anchor="middle">500</text>
<line x1="516" y1="321.5" x2="516" y2="319.7" stroke="#8a8a8a" stroke-width="1"/>
<line x1="516" y1="204.5" x2="516" y2="206.3" stroke="#8a8a8a" stroke-width="1"/>
<text x="516" y="331.7" font-size="7.4" class="t" fill="#4a4a4a" text-anchor="middle">1000</text>
<line x1="554.75" y1="321.5" x2="554.75" y2="319.7" stroke="#8a8a8a" stroke-width="1"/>
<line x1="554.75" y1="204.5" x2="554.75" y2="206.3" stroke="#8a8a8a" stroke-width="1"/>
<text x="554.75" y="331.7" font-size="7.4" class="t" fill="#4a4a4a" text-anchor="middle">1500</text>
<line x1="593.5" y1="321.5" x2="593.5" y2="319.7" stroke="#8a8a8a" stroke-width="1"/>
<line x1="593.5" y1="204.5" x2="593.5" y2="206.3" stroke="#8a8a8a" stroke-width="1"/>
<text x="593.5" y="331.7" font-size="7.4" class="t" fill="#4a4a4a" text-anchor="middle">2000</text>
<line x1="438.5" y1="321.5" x2="440.3" y2="321.5" stroke="#8a8a8a" stroke-width="1"/>
<line x1="593.5" y1="321.5" x2="591.7" y2="321.5" stroke="#8a8a8a" stroke-width="1"/>
<text x="435.9" y="324.2" font-size="7.4" class="t" fill="#4a4a4a" text-anchor="end">0</text>
<line x1="438.5" y1="292.25" x2="440.3" y2="292.25" stroke="#8a8a8a" stroke-width="1"/>
<line x1="593.5" y1="292.25" x2="591.7" y2="292.25" stroke="#8a8a8a" stroke-width="1"/>
<text x="435.9" y="294.95" font-size="7.4" class="t" fill="#4a4a4a" text-anchor="end">5</text>
<line x1="438.5" y1="263" x2="440.3" y2="263" stroke="#8a8a8a" stroke-width="1"/>
<line x1="593.5" y1="263" x2="591.7" y2="263" stroke="#8a8a8a" stroke-width="1"/>
<text x="435.9" y="265.7" font-size="7.4" class="t" fill="#4a4a4a" text-anchor="end">10</text>
<line x1="438.5" y1="233.75" x2="440.3" y2="233.75" stroke="#8a8a8a" stroke-width="1"/>
<line x1="593.5" y1="233.75" x2="591.7" y2="233.75" stroke="#8a8a8a" stroke-width="1"/>
<text x="435.9" y="236.45" font-size="7.4" class="t" fill="#4a4a4a" text-anchor="end">15</text>
<line x1="438.5" y1="204.5" x2="440.3" y2="204.5" stroke="#8a8a8a" stroke-width="1"/>
<line x1="593.5" y1="204.5" x2="591.7" y2="204.5" stroke="#8a8a8a" stroke-width="1"/>
<text x="435.9" y="207.2" font-size="7.4" class="t" fill="#4a4a4a" text-anchor="end">20</text>
<text x="515.3" y="343.1" font-size="7.9" class="t" fill="#4a4a4a" text-anchor="middle">Rounds</text>
<text transform="translate(423.6,263.7) rotate(-90)" font-size="8.2" class="t" fill="#4a4a4a" text-anchor="middle">Norm of Grad</text>
<text x="515.4" y="200.9" font-size="7.8" font-weight="bold" letter-spacing="0.14" fill="#000" text-anchor="middle">( f ) p-FedAMSGrad</text>
<defs><clipPath id="cpg"><rect x="29.5" y="366.5" width="157.0" height="119.0"/></clipPath></defs>
<rect x="30.5" y="367.5" width="155.0" height="117.0" fill="none" stroke="#a2a2a2" stroke-width="1.2"/>
<path clip-path="url(#cpg)" d="M39.4,367.3 L43.4,388 L47.4,384.7 L51.4,403.5 L56.1,404.1 L59.4,399.4 L63.4,406.1 L74.1,409.5 L82.8,410.1 L86.2,416.2 L92.9,415.5 L96.1,413.7 L98.3,411.5 L102.2,412 L106,418.1 L113.7,451.2 L117,453.4 L119.1,455.3 L125.7,458 L130.9,457.7 L136.1,459 L141.3,458.6 L147.8,461.2 L152.4,467.7 L162.2,469 L172.6,470.3 L185.5,471.3" fill="none" stroke="#000000" stroke-width="1.8" stroke-linejoin="round"/>
<path clip-path="url(#cpg)" d="M42.7,367.3 L47.4,379.4 L52.1,392.8 L56.8,404.8 L60.4,411.7 L66,420 L71.1,427.7 L81.8,433.8 L90.5,439.1 L97.8,437.8 L105.8,443.8 L108.5,449.1 L112.5,458.5 L118.7,464.7 L128.1,467.4 L141.4,469.7 L148.1,471 L153.5,472.1 L168.2,471.8 L185.5,472.1" fill="none" stroke="#0000ff" stroke-width="1.8" stroke-linejoin="round" stroke-dasharray="5 4.2"/>
<path clip-path="url(#cpg)" d="M42.2,367.3 L47.9,375.9 L51.2,385.3 L55.6,394.6 L61.7,394.1 L65.5,396.3 L69.9,389.1 L73.2,395.2 L78.7,401.8 L82.1,392.4 L87.5,399.4 L94.2,400.1 L100.9,397.4 L104.9,404.8 L107,412 L108.5,421.1 L112.5,449.1 L113.4,453.4 L121.4,458.7 L125.4,461.4 L132.1,460.7 L137.4,462.1 L144.1,460.7 L148.1,462.1 L152.1,472.1 L161.5,475 L172.2,475.5 L185.5,475.9" fill="none" stroke="#ff0000" stroke-width="1.8" stroke-linejoin="round" stroke-dasharray="5 4.2"/>
<path clip-path="url(#cpg)" d="M40,367.3 L43.4,389.4 L47.4,398.8 L51.4,407.5 L55.4,413.7 L59.7,413 L63,417.7 L67,417.7 L75.1,429.7 L82.4,425.1 L87.1,430.4 L91.1,425.7 L95.1,429.7 L97.8,429.7 L101.8,425.1 L105.8,432.4 L111.2,455.8 L113.9,461.9 L121.4,468.1 L134.8,469.7 L148.1,472.8 L152.1,476.1 L168.2,477.2 L185.5,478.1" fill="none" stroke="#ff00ff" stroke-width="1.8" stroke-linejoin="round"/>
<line x1="30.5" y1="484.5" x2="30.5" y2="482.7" stroke="#8a8a8a" stroke-width="1"/>
<line x1="30.5" y1="367.5" x2="30.5" y2="369.3" stroke="#8a8a8a" stroke-width="1"/>
<text x="30.5" y="494.7" font-size="7.4" class="t" fill="#4a4a4a" text-anchor="middle">0</text>
<line x1="69.25" y1="484.5" x2="69.25" y2="482.7" stroke="#8a8a8a" stroke-width="1"/>
<line x1="69.25" y1="367.5" x2="69.25" y2="369.3" stroke="#8a8a8a" stroke-width="1"/>
<text x="69.25" y="494.7" font-size="7.4" class="t" fill="#4a4a4a" text-anchor="middle">500</text>
<line x1="108" y1="484.5" x2="108" y2="482.7" stroke="#8a8a8a" stroke-width="1"/>
<line x1="108" y1="367.5" x2="108" y2="369.3" stroke="#8a8a8a" stroke-width="1"/>
<text x="108" y="494.7" font-size="7.4" class="t" fill="#4a4a4a" text-anchor="middle">1000</text>
<line x1="146.75" y1="484.5" x2="146.75" y2="482.7" stroke="#8a8a8a" stroke-width="1"/>
<line x1="146.75" y1="367.5" x2="146.75" y2="369.3" stroke="#8a8a8a" stroke-width="1"/>
<text x="146.75" y="494.7" font-size="7.4" class="t" fill="#4a4a4a" text-anchor="middle">1500</text>
<line x1="185.5" y1="484.5" x2="185.5" y2="482.7" stroke="#8a8a8a" stroke-width="1"/>
<line x1="185.5" y1="367.5" x2="185.5" y2="369.3" stroke="#8a8a8a" stroke-width="1"/>
<text x="185.5" y="494.7" font-size="7.4" class="t" fill="#4a4a4a" text-anchor="middle">2000</text>
<line x1="30.5" y1="484.5" x2="32.3" y2="484.5" stroke="#8a8a8a" stroke-width="1"/>
<line x1="185.5" y1="484.5" x2="183.7" y2="484.5" stroke="#8a8a8a" stroke-width="1"/>
<text x="27.9" y="487.2" font-size="7.4" class="t" fill="#4a4a4a" text-anchor="end">0</text>
<line x1="30.5" y1="461.1" x2="32.3" y2="461.1" stroke="#8a8a8a" stroke-width="1"/>
<line x1="185.5" y1="461.1" x2="183.7" y2="461.1" stroke="#8a8a8a" stroke-width="1"/>
<text x="27.9" y="463.8" font-size="7.4" class="t" fill="#4a4a4a" text-anchor="end">0.2</text>
<line x1="30.5" y1="437.7" x2="32.3" y2="437.7" stroke="#8a8a8a" stroke-width="1"/>
<line x1="185.5" y1="437.7" x2="183.7" y2="437.7" stroke="#8a8a8a" stroke-width="1"/>
<text x="27.9" y="440.4" font-size="7.4" class="t" fill="#4a4a4a" text-anchor="end">0.4</text>
<line x1="30.5" y1="414.3" x2="32.3" y2="414.3" stroke="#8a8a8a" stroke-width="1"/>
<line x1="185.5" y1="414.3" x2="183.7" y2="414.3" stroke="#8a8a8a" stroke-width="1"/>
<text x="27.9" y="417" font-size="7.4" class="t" fill="#4a4a4a" text-anchor="end">0.6</text>
<line x1="30.5" y1="390.9" x2="32.3" y2="390.9" stroke="#8a8a8a" stroke-width="1"/>
<line x1="185.5" y1="390.9" x2="183.7" y2="390.9" stroke="#8a8a8a" stroke-width="1"/>
<text x="27.9" y="393.6" font-size="7.4" class="t" fill="#4a4a4a" text-anchor="end">0.8</text>
<line x1="30.5" y1="367.5" x2="32.3" y2="367.5" stroke="#8a8a8a" stroke-width="1"/>
<line x1="185.5" y1="367.5" x2="183.7" y2="367.5" stroke="#8a8a8a" stroke-width="1"/>
<text x="27.9" y="370.2" font-size="7.4" class="t" fill="#4a4a4a" text-anchor="end">1</text>
<text x="107.3" y="506.1" font-size="7.9" class="t" fill="#4a4a4a" text-anchor="middle">Rounds</text>
<text transform="translate(13.5,426.5) rotate(-90)" font-size="8.2" class="t" fill="#4a4a4a" text-anchor="middle">Training Loss</text>
<text x="107.4" y="363.9" font-size="7.8" font-weight="bold" letter-spacing="0.14" fill="#000" text-anchor="middle">( g ) s-FedAMSGrad</text>
<rect x="107.5" y="373.8" width="71" height="37.2" fill="#fff" stroke="#a2a2a2" stroke-width="1"/>
<line x1="110.2" y1="379.1" x2="134.3" y2="379.1" stroke="#000000" stroke-width="1.8"/>
<text x="136.3" y="381.6" font-size="6.6" class="t" fill="#333">FedAMSGrad</text>
<line x1="110.2" y1="387.88" x2="134.3" y2="387.88" stroke="#0000ff" stroke-width="1.8" stroke-dasharray="5 4.2"/>
<text x="136.3" y="390.38" font-size="6.6" class="t" fill="#333"><tspan font-family="Liberation Serif" font-style="italic">β</tspan>=200</text>
<line x1="110.2" y1="396.66" x2="134.3" y2="396.66" stroke="#ff0000" stroke-width="1.8" stroke-dasharray="5 4.2"/>
<text x="136.3" y="399.16" font-size="6.6" class="t" fill="#333"><tspan font-family="Liberation Serif" font-style="italic">β</tspan>=100</text>
<line x1="110.2" y1="405.44" x2="134.3" y2="405.44" stroke="#ff00ff" stroke-width="1.8"/>
<text x="136.3" y="407.94" font-size="6.6" class="t" fill="#333"><tspan font-family="Liberation Serif" font-style="italic">β</tspan>=50</text>
<defs><clipPath id="cph"><rect x="233.5" y="366.5" width="157.0" height="119.0"/></clipPath></defs>
<rect x="234.5" y="367.5" width="155.0" height="117.0" fill="none" stroke="#a2a2a2" stroke-width="1.2"/>
<path clip-path="url(#cph)" d="M246.4,483 L247.6,478.7 L251.1,479.9 L255.2,461.2 L260.1,459.2 L263.5,463.9 L267.5,456.6 L273.5,453.9 L280.2,451.9 L286.2,452.5 L290.3,443.8 L294.3,445.8 L298.3,443.8 L301.7,448.5 L306.2,448.5 L310,441.8 L316.9,402.5 L323.1,401 L329.2,400.2 L333.8,401.8 L340,401.8 L347.7,402.5 L352.3,398.7 L356.9,392.5 L364.6,392.5 L370.8,393 L376.9,392.5 L383.1,393 L389.5,393" fill="none" stroke="#000000" stroke-width="1.8" stroke-linejoin="round"/>
<path clip-path="url(#cph)" d="M253.2,485 L257.4,468.5 L261.4,456.5 L268.1,445.1 L274.8,437.1 L282.8,431.1 L292.2,424.4 L301.5,424.4 L309.2,418 L312.3,408.8 L316.9,398 L326.2,395.7 L336.9,395.7 L350.8,394.9 L356.2,393.4 L364.6,394.2 L376.9,393.8 L389.5,393.7" fill="none" stroke="#0000ff" stroke-width="1.8" stroke-linejoin="round" stroke-dasharray="5 4.2"/>
<path clip-path="url(#cph)" d="M254,485 L257.4,473.9 L266.8,469.8 L273.4,475.2 L280.1,463.2 L286.8,470.5 L293.5,463.2 L305.6,465.8 L309.6,455.1 L311.5,442.6 L316.9,401.1 L325.4,398.8 L333.8,398 L340,399.5 L348.5,402.6 L353.8,394.9 L356.2,389.5 L364.6,388 L376.9,388 L389.5,387.7" fill="none" stroke="#ff0000" stroke-width="1.8" stroke-linejoin="round" stroke-dasharray="5 4.2"/>
<path clip-path="url(#cph)" d="M246.5,485 L250,473.9 L254,460.5 L258.7,450.5 L263.4,451.8 L266.8,447.1 L270.8,447.8 L278.8,432.4 L286.2,437.7 L290.2,431.1 L294.2,437.1 L298.9,431.7 L302.2,431.7 L306.2,436.8 L310.8,424.2 L316.9,394.2 L324.6,391.1 L333.8,391.8 L341.5,393.4 L352.3,391.5 L356.2,387.5 L364.6,387.2 L376.9,387.2 L389.5,386.9" fill="none" stroke="#ff00ff" stroke-width="1.8" stroke-linejoin="round"/>
<line x1="234.5" y1="484.5" x2="234.5" y2="482.7" stroke="#8a8a8a" stroke-width="1"/>
<line x1="234.5" y1="367.5" x2="234.5" y2="369.3" stroke="#8a8a8a" stroke-width="1"/>
<text x="234.5" y="494.7" font-size="7.4" class="t" fill="#4a4a4a" text-anchor="middle">0</text>
<line x1="273.25" y1="484.5" x2="273.25" y2="482.7" stroke="#8a8a8a" stroke-width="1"/>
<line x1="273.25" y1="367.5" x2="273.25" y2="369.3" stroke="#8a8a8a" stroke-width="1"/>
<text x="273.25" y="494.7" font-size="7.4" class="t" fill="#4a4a4a" text-anchor="middle">500</text>
<line x1="312" y1="484.5" x2="312" y2="482.7" stroke="#8a8a8a" stroke-width="1"/>
<line x1="312" y1="367.5" x2="312" y2="369.3" stroke="#8a8a8a" stroke-width="1"/>
<text x="312" y="494.7" font-size="7.4" class="t" fill="#4a4a4a" text-anchor="middle">1000</text>
<line x1="350.75" y1="484.5" x2="350.75" y2="482.7" stroke="#8a8a8a" stroke-width="1"/>
<line x1="350.75" y1="367.5" x2="350.75" y2="369.3" stroke="#8a8a8a" stroke-width="1"/>
<text x="350.75" y="494.7" font-size="7.4" class="t" fill="#4a4a4a" text-anchor="middle">1500</text>
<line x1="389.5" y1="484.5" x2="389.5" y2="482.7" stroke="#8a8a8a" stroke-width="1"/>
<line x1="389.5" y1="367.5" x2="389.5" y2="369.3" stroke="#8a8a8a" stroke-width="1"/>
<text x="389.5" y="494.7" font-size="7.4" class="t" fill="#4a4a4a" text-anchor="middle">2000</text>
<line x1="234.5" y1="484.5" x2="236.3" y2="484.5" stroke="#8a8a8a" stroke-width="1"/>
<line x1="389.5" y1="484.5" x2="387.7" y2="484.5" stroke="#8a8a8a" stroke-width="1"/>
<text x="231.9" y="487.2" font-size="7.4" class="t" fill="#4a4a4a" text-anchor="end">0.7</text>
<line x1="234.5" y1="461.1" x2="236.3" y2="461.1" stroke="#8a8a8a" stroke-width="1"/>
<line x1="389.5" y1="461.1" x2="387.7" y2="461.1" stroke="#8a8a8a" stroke-width="1"/>
<text x="231.9" y="463.8" font-size="7.4" class="t" fill="#4a4a4a" text-anchor="end">0.75</text>
<line x1="234.5" y1="437.7" x2="236.3" y2="437.7" stroke="#8a8a8a" stroke-width="1"/>
<line x1="389.5" y1="437.7" x2="387.7" y2="437.7" stroke="#8a8a8a" stroke-width="1"/>
<text x="231.9" y="440.4" font-size="7.4" class="t" fill="#4a4a4a" text-anchor="end">0.8</text>
<line x1="234.5" y1="414.3" x2="236.3" y2="414.3" stroke="#8a8a8a" stroke-width="1"/>
<line x1="389.5" y1="414.3" x2="387.7" y2="414.3" stroke="#8a8a8a" stroke-width="1"/>
<text x="231.9" y="417" font-size="7.4" class="t" fill="#4a4a4a" text-anchor="end">0.85</text>
<line x1="234.5" y1="390.9" x2="236.3" y2="390.9" stroke="#8a8a8a" stroke-width="1"/>
<line x1="389.5" y1="390.9" x2="387.7" y2="390.9" stroke="#8a8a8a" stroke-width="1"/>
<text x="231.9" y="393.6" font-size="7.4" class="t" fill="#4a4a4a" text-anchor="end">0.9</text>
<line x1="234.5" y1="367.5" x2="236.3" y2="367.5" stroke="#8a8a8a" stroke-width="1"/>
<line x1="389.5" y1="367.5" x2="387.7" y2="367.5" stroke="#8a8a8a" stroke-width="1"/>
<text x="231.9" y="370.2" font-size="7.4" class="t" fill="#4a4a4a" text-anchor="end">0.95</text>
<text x="311.3" y="506.1" font-size="7.9" class="t" fill="#4a4a4a" text-anchor="middle">Rounds</text>
<text transform="translate(213.1,426.3) rotate(-90)" font-size="8.2" class="t" fill="#4a4a4a" text-anchor="middle">Testing Accuray</text>
<text x="311.4" y="363.9" font-size="7.8" font-weight="bold" letter-spacing="0.14" fill="#000" text-anchor="middle">( h ) s-FedAMSGrad</text>
<defs><clipPath id="cpi"><rect x="437.5" y="366.5" width="157.0" height="119.0"/></clipPath></defs>
<rect x="438.5" y="367.5" width="155.0" height="117.0" fill="none" stroke="#a2a2a2" stroke-width="1.2"/>
<path clip-path="url(#cpi)" d="M439.7,367 L441.9,408 L444.1,430.8 L447.7,405.8 L451.4,421.2 L455.8,408 L459.5,430.1 L463.2,425.7 L467.6,419 L474.9,424.9 L480,423.4 L485.9,424.9 L490.3,423.4 L495.4,432.3 L500.6,428.6 L505.7,421.2 L510.9,424.2 L514.3,429.7 L517.9,459.9 L521.5,467.1 L525.8,462.8 L530.1,462.1 L537.3,454.9 L544.5,453.4 L548.8,446.2 L552.4,447.2 L559.6,462.8 L567.5,454.1 L571.8,453.4 L576.2,456.3 L579.8,453.7 L584.1,456.3 L593.5,455.6" fill="none" stroke="#000000" stroke-width="1.8" stroke-linejoin="round"/>
<path clip-path="url(#cpi)" d="M439.5,367.5 L440.2,449 L443.3,445.3 L448.5,427.7 L455.1,407.1 L460.2,419.6 L468.3,426.9 L475.6,432.1 L483,438.7 L491.8,440.9 L500.6,443.8 L507,440 L510,447.4 L514.3,448.8 L517.9,461.8 L522.9,469 L531,468 L540.2,466.8 L548.8,467.5 L553.1,465.4 L560.3,468.7 L570.4,468.2 L579,467.5 L586.2,466.8 L593.5,468.2" fill="none" stroke="#0000ff" stroke-width="1.8" stroke-linejoin="round" stroke-dasharray="5 4.2"/>
<path clip-path="url(#cpi)" d="M439.5,367.5 L441.9,430.6 L447,396.8 L452.1,402.7 L455.1,399 L460.2,418.8 L465.4,420.3 L473.4,422.5 L478.6,413.7 L483,424.7 L490.3,413.7 L499.1,421 L509.4,418.1 L513.6,430.1 L517.9,458.9 L522.2,467.5 L531.6,463.2 L540.2,456 L548.8,453.1 L551.7,445.2 L559.6,463.2 L566.1,466.8 L571.8,469 L580.5,467.5 L587.7,463.9 L593.5,462" fill="none" stroke="#ff0000" stroke-width="1.8" stroke-linejoin="round" stroke-dasharray="5 4.2"/>
<path clip-path="url(#cpi)" d="M439.5,367.5 L440.4,442.3 L447.7,408.6 L452.1,420.3 L455.8,420.3 L459.5,427.7 L463.2,427.7 L474.9,429.1 L483,442.3 L490.3,435 L494.7,442.3 L499.1,437.9 L505,441.6 L509.4,430.6 L513.6,438.8 L517.2,461.8 L521.5,471.1 L525.1,467.5 L529.4,471.8 L535.9,467.5 L544.5,460.3 L553.1,463.2 L559.6,472.6 L570.4,473.3 L577.6,471.8 L583.3,473.3 L588.4,471.8 L593.5,472.6" fill="none" stroke="#ff00ff" stroke-width="1.8" stroke-linejoin="round"/>
<line x1="438.5" y1="484.5" x2="438.5" y2="482.7" stroke="#8a8a8a" stroke-width="1"/>
<line x1="438.5" y1="367.5" x2="438.5" y2="369.3" stroke="#8a8a8a" stroke-width="1"/>
<text x="438.5" y="494.7" font-size="7.4" class="t" fill="#4a4a4a" text-anchor="middle">0</text>
<line x1="477.25" y1="484.5" x2="477.25" y2="482.7" stroke="#8a8a8a" stroke-width="1"/>
<line x1="477.25" y1="367.5" x2="477.25" y2="369.3" stroke="#8a8a8a" stroke-width="1"/>
<text x="477.25" y="494.7" font-size="7.4" class="t" fill="#4a4a4a" text-anchor="middle">500</text>
<line x1="516" y1="484.5" x2="516" y2="482.7" stroke="#8a8a8a" stroke-width="1"/>
<line x1="516" y1="367.5" x2="516" y2="369.3" stroke="#8a8a8a" stroke-width="1"/>
<text x="516" y="494.7" font-size="7.4" class="t" fill="#4a4a4a" text-anchor="middle">1000</text>
<line x1="554.75" y1="484.5" x2="554.75" y2="482.7" stroke="#8a8a8a" stroke-width="1"/>
<line x1="554.75" y1="367.5" x2="554.75" y2="369.3" stroke="#8a8a8a" stroke-width="1"/>
<text x="554.75" y="494.7" font-size="7.4" class="t" fill="#4a4a4a" text-anchor="middle">1500</text>
<line x1="593.5" y1="484.5" x2="593.5" y2="482.7" stroke="#8a8a8a" stroke-width="1"/>
<line x1="593.5" y1="367.5" x2="593.5" y2="369.3" stroke="#8a8a8a" stroke-width="1"/>
<text x="593.5" y="494.7" font-size="7.4" class="t" fill="#4a4a4a" text-anchor="middle">2000</text>
<line x1="438.5" y1="484.5" x2="440.3" y2="484.5" stroke="#8a8a8a" stroke-width="1"/>
<line x1="593.5" y1="484.5" x2="591.7" y2="484.5" stroke="#8a8a8a" stroke-width="1"/>
<text x="435.9" y="487.2" font-size="7.4" class="t" fill="#4a4a4a" text-anchor="end">0</text>
<line x1="438.5" y1="455.25" x2="440.3" y2="455.25" stroke="#8a8a8a" stroke-width="1"/>
<line x1="593.5" y1="455.25" x2="591.7" y2="455.25" stroke="#8a8a8a" stroke-width="1"/>
<text x="435.9" y="457.95" font-size="7.4" class="t" fill="#4a4a4a" text-anchor="end">5</text>
<line x1="438.5" y1="426" x2="440.3" y2="426" stroke="#8a8a8a" stroke-width="1"/>
<line x1="593.5" y1="426" x2="591.7" y2="426" stroke="#8a8a8a" stroke-width="1"/>
<text x="435.9" y="428.7" font-size="7.4" class="t" fill="#4a4a4a" text-anchor="end">10</text>
<line x1="438.5" y1="396.75" x2="440.3" y2="396.75" stroke="#8a8a8a" stroke-width="1"/>
<line x1="593.5" y1="396.75" x2="591.7" y2="396.75" stroke="#8a8a8a" stroke-width="1"/>
<text x="435.9" y="399.45" font-size="7.4" class="t" fill="#4a4a4a" text-anchor="end">15</text>
<line x1="438.5" y1="367.5" x2="440.3" y2="367.5" stroke="#8a8a8a" stroke-width="1"/>
<line x1="593.5" y1="367.5" x2="591.7" y2="367.5" stroke="#8a8a8a" stroke-width="1"/>
<text x="435.9" y="370.2" font-size="7.4" class="t" fill="#4a4a4a" text-anchor="end">20</text>
<text x="515.3" y="506.1" font-size="7.9" class="t" fill="#4a4a4a" text-anchor="middle">Rounds</text>
<text transform="translate(423.6,426.7) rotate(-90)" font-size="8.2" class="t" fill="#4a4a4a" text-anchor="middle">Norm of Grad</text>
<text x="515.4" y="363.9" font-size="7.8" font-weight="bold" letter-spacing="0.14" fill="#000" text-anchor="middle">( i ) s-FedAMSGrad</text>
</svg></body></html>
